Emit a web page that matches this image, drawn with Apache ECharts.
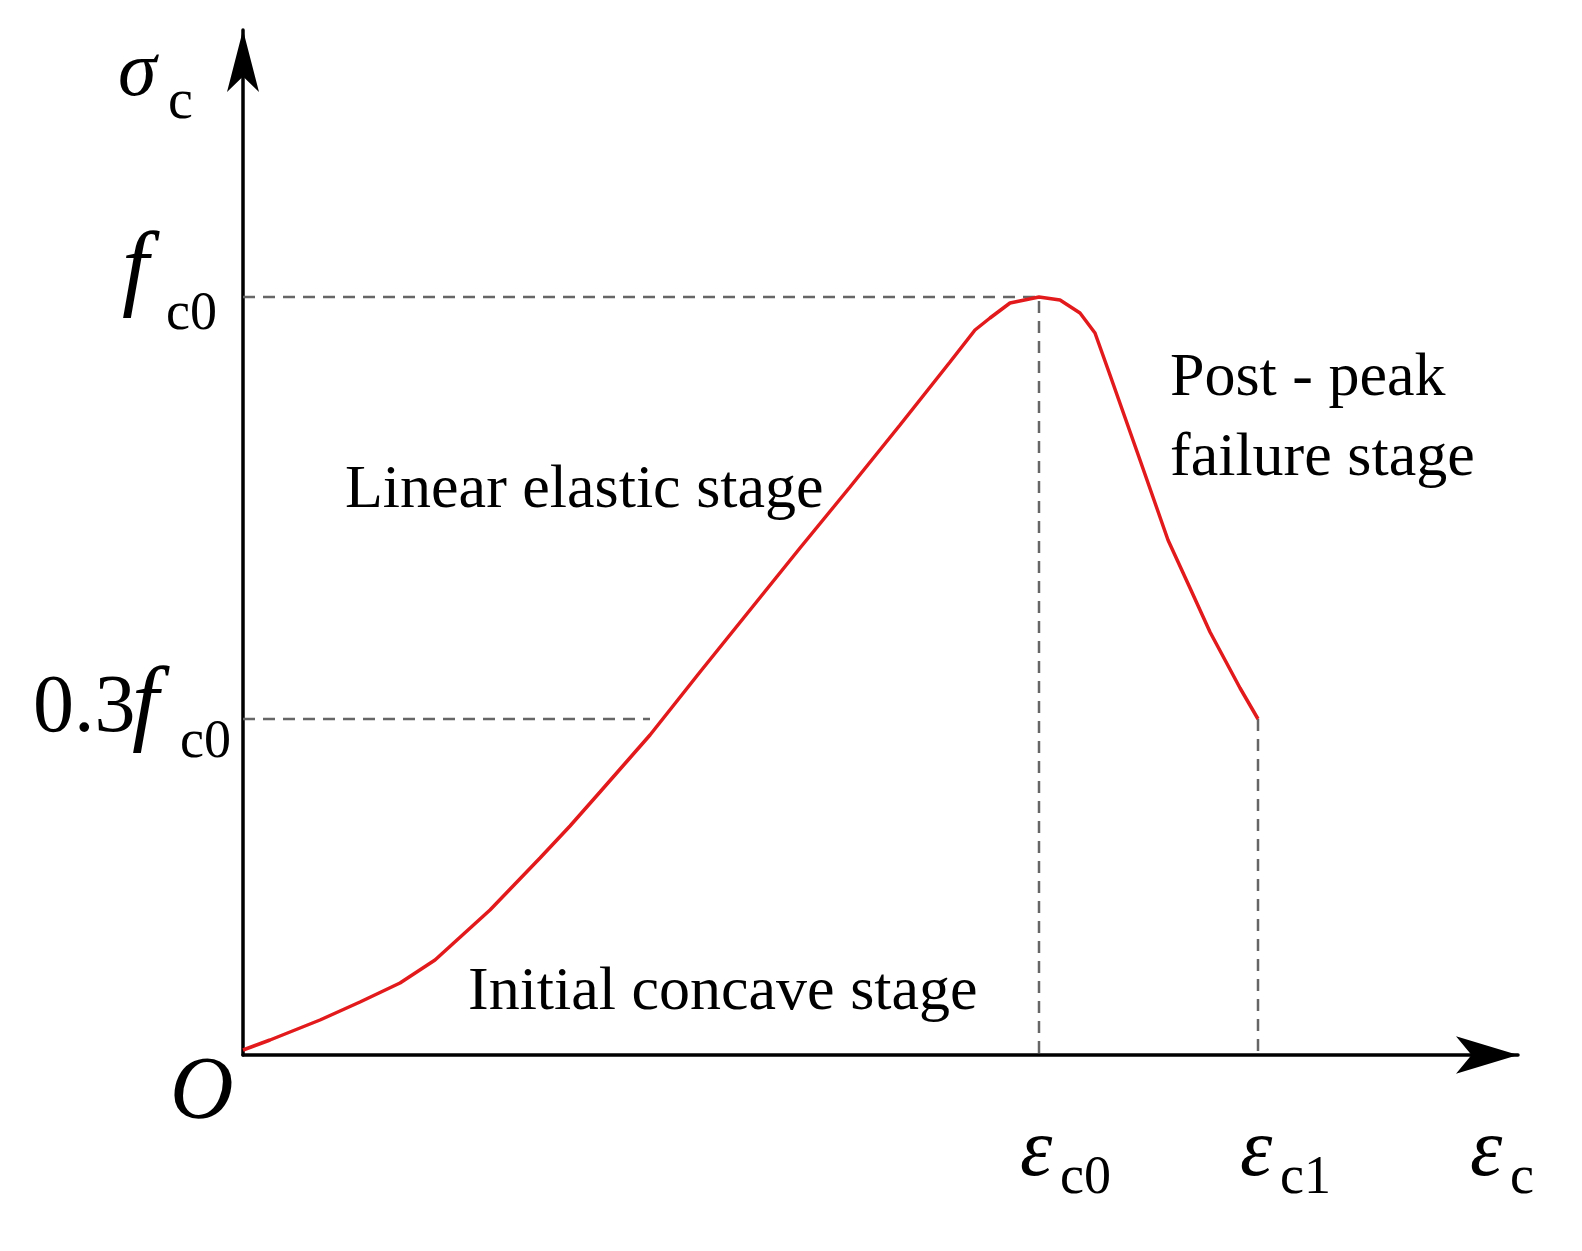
<!DOCTYPE html><html><head><meta charset="utf-8">
<script src="https://cdn.jsdelivr.net/npm/echarts@6/dist/echarts.min.js"></script>
<style>html,body{margin:0;background:#fff;overflow:hidden}#c{width:100vw;height:100vh}</style></head><body><div id="c"></div>
<script>
// strain (arbitrary units) and stress (arbitrary units); fc0 = 758
const curveX = [0,27,77,117,157,192,247,297,327,357,407,457,507,557,607,657,707,732,747,767,796,817,837,852,867,897,925,947,967,997,1015];
const curveY = [5,15,35,53,72,95,145,197,229,263,320,383,445,507,568,630,693,725,737,752,758,755,742,722,680,595,515,467,423,367,336];
const fc0 = 758, fc03 = 336, eps0 = 796, eps1 = 1015;
const stageLabels = ['Linear elastic stage','Initial concave stage','Post - peak','failure stage'];
const curve = curveX.map((x,i)=>[x,curveY[i]]);
const chart = echarts.init(document.getElementById('c'));
const sx = chart.getWidth()/1582, sy = chart.getHeight()/1251, s = Math.min(sx,sy);
const dash = {color:'#666',width:2.5,type:[12,8]};
const F = 'Liberation Serif';
function t(x,y,text,size,italic){return {type:'text',left:x*sx,top:y*sy,style:{text,fontFamily:F,fontSize:size*s,fontStyle:italic?'italic':'normal',fill:'#000'}};}
chart.setOption({
  animation:false,
  grid:{left:243*sx,bottom:196*sy,width:1275*sx,height:1025*sy},
  xAxis:{type:'value',min:0,max:1275,axisLine:{lineStyle:{color:'#000',width:3.5},symbol:['none','arrow'],symbolSize:[28,62]},axisTick:{show:false},axisLabel:{show:false},splitLine:{show:false}},
  yAxis:{type:'value',min:0,max:1025,axisLine:{show:true,lineStyle:{color:'#000',width:3.5},symbol:['none','arrow'],symbolSize:[24,62]},axisTick:{show:false},axisLabel:{show:false},splitLine:{show:false}},
  series:[
    {type:'line',data:[[0,fc0],[eps0,fc0],[eps0,0]],symbol:'none',lineStyle:dash,z:1},
    {type:'line',data:[[0,fc03],[407,fc03]],symbol:'none',lineStyle:dash,z:1},
    {type:'line',data:[[eps1,fc03],[eps1,0]],symbol:'none',lineStyle:dash,z:1},
    {type:'line',data:curve,symbol:'none',lineStyle:{color:'#e31a1c',width:3.5},z:3}
  ],
  graphic:[
    t(118,35,'σ',78,true), t(168,75,'c',56,false),
    t(122,225,'f',96,true), t(166,288,'c0',54,false),
    t(33,668,'0.3',82,false), t(132,660,'f',96,true), t(180,716,'c0',54,false),
    t(170,1050,'O',88,true),
    t(1020,1112,'ε',82,true), t(1060,1152,'c0',54,false),
    t(1240,1112,'ε',82,true), t(1280,1152,'c1',54,false),
    t(1470,1112,'ε',82,true), t(1510,1152,'c',54,false),
    t(345,460,stageLabels[0],62,false),
    t(468,962,stageLabels[1],62,false),
    t(1170,348,stageLabels[2],62,false),
    t(1170,428,stageLabels[3],62,false)
  ]
});
</script></body></html>
